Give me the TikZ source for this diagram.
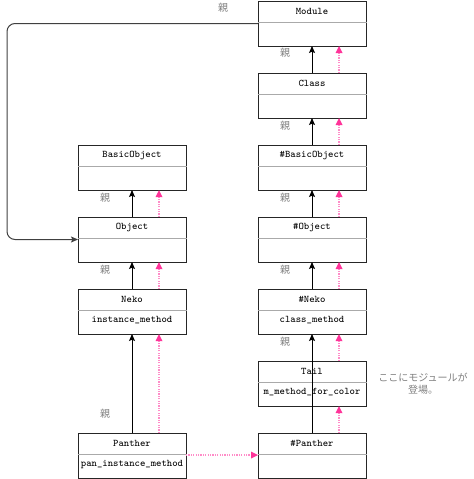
\documentclass[tikz,border=0pt]{standalone}
\usepackage{fontspec}
\newfontfamily\jpfont{Noto Sans CJK JP}
\usetikzlibrary{arrows.meta}

\definecolor{pinkline}{RGB}{255,51,153}
\definecolor{pinkdots}{RGB}{255,140,200}
\definecolor{labelgray}{RGB}{128,128,128}
\definecolor{dividergray}{RGB}{170,170,170}

\tikzset{every picture/.style={line width=0.75pt}}
\tikzset{
  classbox/.style={draw=black!85, minimum width=81pt, minimum height=33.75pt, inner sep=0pt, outer sep=0pt},
  classname/.style={anchor=north, minimum width=81pt, minimum height=15pt, inner sep=0pt, font=\ttfamily\fontsize{7.6}{9}\selectfont},
  classbody/.style={anchor=north, minimum width=81pt, minimum height=15pt, inner sep=0pt, font=\ttfamily\fontsize{7.6}{9}\selectfont},
  divider/.style={draw=dividergray, line width=0.75pt},
  parent/.style={draw=black, -{Stealth[length=5.25pt,width=4.5pt,inset=1pt]}},
  lookup/.style={draw=pinkdots, line width=0.8pt, dash pattern=on 0.9pt off 0.9pt, -{Triangle[length=5.25pt,width=5.25pt,line width=0pt,color=pinkline]}},
  oya/.style={text=labelgray, inner sep=0.75pt, font=\jpfont\fontsize{7.5}{9}\selectfont},
}

\begin{document}
\begin{tikzpicture}[x=0.75pt,y=0.75pt,yscale=-1,xscale=1]
\useasboundingbox (0,0) rectangle (474,479);

%Shape: Class boxes, right column
\node [classbox] (module) at (312,23.5) {};
\node [classname] (moduleh) at (module.north) {Module};
\node [classbody] at (moduleh.south) {};
\draw [divider] (moduleh.south west) -- (moduleh.south east);

\node [classbox] (klass) at (312,95.5) {};
\node [classname] (klassh) at (klass.north) {Class};
\node [classbody] at (klassh.south) {};
\draw [divider] (klassh.south west) -- (klassh.south east);

\node [classbox] (sbasicobject) at (312,167.5) {};
\node [classname] (sbasicobjecth) at (sbasicobject.north) {\#BasicObject};
\node [classbody] at (sbasicobjecth.south) {};
\draw [divider] (sbasicobjecth.south west) -- (sbasicobjecth.south east);

\node [classbox] (sobject) at (312,239.5) {};
\node [classname] (sobjecth) at (sobject.north) {\#Object};
\node [classbody] at (sobjecth.south) {};
\draw [divider] (sobjecth.south west) -- (sobjecth.south east);

\node [classbox] (sneko) at (312,311.5) {};
\node [classname] (snekoh) at (sneko.north) {\#Neko};
\node [classbody] at (snekoh.south) {class\_method};
\draw [divider] (snekoh.south west) -- (snekoh.south east);

\node [classbox] (tail) at (312,383.5) {};
\node [classname] (tailh) at (tail.north) {Tail};
\node [classbody] at (tailh.south) {m\_method\_for\_color};
\draw [divider] (tailh.south west) -- (tailh.south east);

\node [classbox] (spanther) at (312,455.5) {};
\node [classname] (spantherh) at (spanther.north) {\#Panther};
\node [classbody] at (spantherh.south) {};
\draw [divider] (spantherh.south west) -- (spantherh.south east);

%Shape: Class boxes, left column
\node [classbox] (basicobject) at (132,167.5) {};
\node [classname] (basicobjecth) at (basicobject.north) {BasicObject};
\node [classbody] at (basicobjecth.south) {};
\draw [divider] (basicobjecth.south west) -- (basicobjecth.south east);

\node [classbox] (object) at (132,239.5) {};
\node [classname] (objecth) at (object.north) {Object};
\node [classbody] at (objecth.south) {};
\draw [divider] (objecth.south west) -- (objecth.south east);

\node [classbox] (neko) at (132,311.5) {};
\node [classname] (nekoh) at (neko.north) {Neko};
\node [classbody] at (nekoh.south) {instance\_method};
\draw [divider] (nekoh.south west) -- (nekoh.south east);

\node [classbox] (panther) at (132,455.5) {};
\node [classname] (pantherh) at (panther.north) {Panther};
\node [classbody] at (pantherh.south) {pan\_instance\_method};
\draw [divider] (pantherh.south west) -- (pantherh.south east);

%Straight Lines: superclass links
\draw [parent] (klass.north) -- (module.south);
\draw [parent] (sbasicobject.north) -- (klass.south);
\draw [parent] (sobject.north) -- (sbasicobject.south);
\draw [parent] (sneko.north) -- (sobject.south);
\draw [parent] (spanther.north) -- (sneko.south);
\draw [parent] (object.north) -- (basicobject.south);
\draw [parent] (neko.north) -- (object.south);
\draw [parent] (panther.north) -- (neko.south);
\coordinate (bend) at (7,23.5);
\draw [parent, draw=black!75, rounded corners=6pt] (module.west) -- (bend) |- (object.west);

%Straight Lines: method lookup
\draw [lookup] ([xshift=20.25pt]klass.north) -- ([xshift=20.25pt]module.south);
\draw [lookup] ([xshift=20.25pt]sbasicobject.north) -- ([xshift=20.25pt]klass.south);
\draw [lookup] ([xshift=20.25pt]sobject.north) -- ([xshift=20.25pt]sbasicobject.south);
\draw [lookup] ([xshift=20.25pt]sneko.north) -- ([xshift=20.25pt]sobject.south);
\draw [lookup] ([xshift=20.25pt]tail.north) -- ([xshift=20.25pt]sneko.south);
\draw [lookup] ([xshift=20.25pt]spanther.north) -- ([xshift=20.25pt]tail.south);
\draw [lookup] ([xshift=20.25pt]object.north) -- ([xshift=20.25pt]basicobject.south);
\draw [lookup] ([xshift=20.25pt]neko.north) -- ([xshift=20.25pt]object.south);
\draw [lookup] ([xshift=20.25pt]panther.north) -- ([xshift=20.25pt]neko.south);
\draw [lookup, line width=1pt] ([yshift=-0.375pt]panther.east) -- ([yshift=-0.375pt]spanther.west);

% Text Node
\node [oya] at (223,8) {親};
\node [oya] at (285,53) {親};
\node [oya] at (285,126) {親};
\node [oya] at (285,198) {親};
\node [oya] at (285,270) {親};
\node [oya] at (285,342) {親};
\node [oya] at (105,198) {親};
\node [oya] at (105,270) {親};
\node [oya] at (105,414) {親};
% Text Node
\node [oya, align=center] at (423,384) {ここにモジュールが\\登場。};

\end{tikzpicture}
\end{document}
